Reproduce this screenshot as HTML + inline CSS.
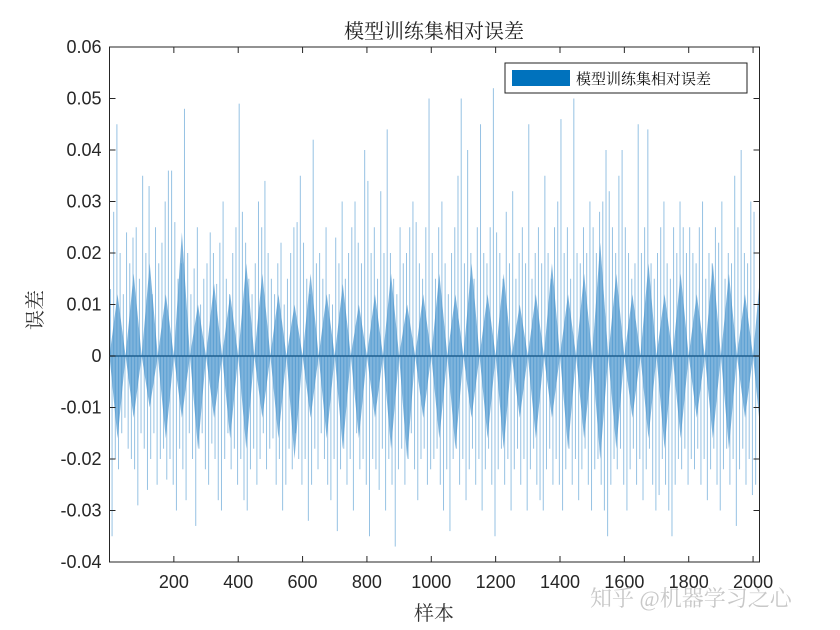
<!DOCTYPE html>
<html><head><meta charset="utf-8">
<style>
html,body{margin:0;padding:0;background:#fff;}
svg{display:block;}
text{font-family:"Liberation Sans","Noto Sans CJK SC",sans-serif;}
.cjk{font-family:"Liberation Serif","Noto Serif CJK SC",serif;}
</style></head>
<body>
<svg id="chart" width="840" height="630">
  <rect x="0" y="0" width="840" height="630" fill="#fff"/>
  <clipPath id="plotclip"><rect x="109.5" y="47" width="650" height="515"/></clipPath>
  <g id="bulk" clip-path="url(#plotclip)"></g>
  <g id="bars" clip-path="url(#plotclip)"></g>
  <g id="axes"></g>
  <text class="cjk" x="434" y="38" font-size="20" text-anchor="middle" fill="#222">模型训练集相对误差</text>
  <text class="cjk" x="434" y="620" font-size="20" text-anchor="middle" fill="#333">样本</text>
  <text class="cjk" x="0" y="0" font-size="20" text-anchor="middle" fill="#333" transform="translate(42,310) rotate(-90)">误差</text>
  <g>
    <rect x="505" y="63" width="242" height="30" fill="#fff" stroke="#222" stroke-width="1"/>
    <rect x="512" y="70" width="58" height="16" fill="#0072bd"/>
    <text class="cjk" x="576" y="84" font-size="15" fill="#111">模型训练集相对误差</text>
  </g>
  <text x="590" y="606" font-size="22" fill="#c8c8c8" class="cjk">知乎 @机器学习之心</text>
</svg>
<script>
const posValues = [
0.013,0.028,0.045,0.02,0.012,0.024,0.018,0.023,0.025,0.015,0.035,0.02,0.033,0.012,0.025,0.018,0.022,0.03,0.036,0.036,
0.026,0.015,0.018,0.048,0.02,0.012,0.017,0.025,0.01,0.015,0.018,0.024,0.02,0.014,0.022,0.03,0.015,0.012,0.02,0.025,
0.049,0.028,0.022,0.015,0.012,0.018,0.03,0.025,0.034,0.02,0.015,0.012,0.018,0.022,0.01,0.015,0.02,0.025,0.026,0.035,
0.022,0.015,0.012,0.042,0.018,0.02,0.015,0.025,0.012,0.01,0.023,0.018,0.03,0.015,0.02,0.025,0.03,0.022,0.018,0.04,
0.034,0.02,0.025,0.015,0.032,0.02,0.044,0.02,0.015,0.012,0.025,0.018,0.02,0.025,0.03,0.026,0.018,0.015,0.025,0.05,
0.02,0.015,0.025,0.03,0.018,0.012,0.02,0.025,0.035,0.05,0.018,0.04,0.02,0.015,0.025,0.045,0.02,0.018,0.025,0.052,
0.024,0.02,0.015,0.028,0.018,0.032,0.015,0.02,0.025,0.018,0.045,0.015,0.02,0.025,0.018,0.035,0.02,0.015,0.025,0.03,
0.046,0.02,0.025,0.015,0.05,0.02,0.018,0.025,0.02,0.03,0.025,0.02,0.028,0.03,0.04,0.032,0.025,0.02,0.035,0.04,
0.025,0.02,0.015,0.018,0.045,0.02,0.025,0.044,0.018,0.015,0.02,0.025,0.03,0.018,0.015,0.025,0.02,0.03,0.025,0.02,
0.025,0.02,0.018,0.025,0.03,0.015,0.02,0.018,0.025,0.022,0.03,0.015,0.02,0.018,0.035,0.025,0.04,0.02,0.018,0.03,
0.028];
const negValues = [
-0.035,-0.02,-0.022,-0.015,-0.012,-0.018,-0.02,-0.022,-0.029,-0.015,-0.018,-0.026,-0.02,-0.015,-0.025,-0.02,-0.018,-0.024,-0.02,-0.025,
-0.03,-0.018,-0.022,-0.028,-0.015,-0.02,-0.033,-0.018,-0.015,-0.022,-0.025,-0.017,-0.02,-0.028,-0.03,-0.02,-0.015,-0.022,-0.018,-0.025,
-0.02,-0.028,-0.03,-0.022,-0.018,-0.025,-0.02,-0.015,-0.022,-0.018,-0.016,-0.025,-0.02,-0.03,-0.025,-0.018,-0.022,-0.015,-0.02,-0.025,
-0.02,-0.032,-0.025,-0.018,-0.022,-0.015,-0.02,-0.025,-0.028,-0.02,-0.034,-0.022,-0.018,-0.025,-0.02,-0.03,-0.015,-0.022,-0.02,-0.025,
-0.035,-0.02,-0.022,-0.026,-0.018,-0.03,-0.02,-0.025,-0.037,-0.022,-0.018,-0.025,-0.02,-0.015,-0.022,-0.028,-0.02,-0.018,-0.025,-0.022,
-0.02,-0.018,-0.025,-0.03,-0.022,-0.034,-0.02,-0.018,-0.025,-0.02,-0.028,-0.022,-0.018,-0.025,-0.02,-0.03,-0.022,-0.018,-0.025,-0.035,
-0.022,-0.018,-0.025,-0.02,-0.03,-0.022,-0.018,-0.025,-0.02,-0.03,-0.022,-0.018,-0.025,-0.028,-0.03,-0.022,-0.018,-0.025,-0.02,-0.025,
-0.03,-0.022,-0.018,-0.025,-0.02,-0.028,-0.022,-0.018,-0.025,-0.03,-0.022,-0.02,-0.025,-0.03,-0.035,-0.025,-0.02,-0.022,-0.018,-0.025,
-0.03,-0.022,-0.018,-0.025,-0.02,-0.028,-0.022,-0.018,-0.025,-0.03,-0.027,-0.02,-0.025,-0.03,-0.035,-0.025,-0.02,-0.022,-0.018,-0.025,
-0.02,-0.022,-0.018,-0.025,-0.02,-0.028,-0.022,-0.018,-0.025,-0.03,-0.022,-0.018,-0.025,-0.02,-0.033,-0.022,-0.018,-0.025,-0.02,-0.027,
-0.025];
const bulkPos = [0.012,0.016,0.018,0.012,0.024,0.010,0.014,0.012,0.018,0.016,0.012,0.010,0.016,0.012,0.014,0.010,0.012,0.016,0.010,0.012,
0.016,0.012,0.018,0.012,0.016,0.010,0.012,0.018,0.012,0.016,0.022,0.016,0.012,0.018,0.012,0.016,0.012,0.018,0.016,0.012,0.018];
const bulkNeg = [-0.016,-0.012,-0.010,-0.016,-0.012,-0.018,-0.012,-0.016,-0.018,-0.012,-0.016,-0.020,-0.012,-0.016,-0.018,-0.016,-0.012,-0.018,-0.020,-0.012,
-0.016,-0.018,-0.012,-0.016,-0.018,-0.012,-0.016,-0.012,-0.018,-0.016,-0.020,-0.018,-0.012,-0.016,-0.018,-0.016,-0.012,-0.016,-0.018,-0.012,-0.016];
const sampleStep = 10;
const bulkStep = 50;
const xTicks = [200,400,600,800,1000,1200,1400,1600,1800,2000];
const yTicks = [-0.04,-0.03,-0.02,-0.01,0,0.01,0.02,0.03,0.04,0.05,0.06];
const yTickLabels = ["-0.04","-0.03","-0.02","-0.01","0","0.01","0.02","0.03","0.04","0.05","0.06"];

const NS = "http://www.w3.org/2000/svg";
const L = 109.5, R = 759.5, T = 47, B = 562;
const xMin = 0, xMax = 2020, yMin = -0.04, yMax = 0.06;
function xs(v){ return L + (v - xMin) / (xMax - xMin) * (R - L); }
function ys(v){ return B - (v - yMin) / (yMax - yMin) * (B - T); }

const bulk = document.getElementById('bulk');
function cluster(sample, v, name){
  const x0 = xs(sample), xm = xs(sample + bulkStep / 2), x1 = xs(sample + bulkStep);
  const p = document.createElementNS(NS, 'polygon');
  p.setAttribute('points', x0.toFixed(2) + ',' + ys(0).toFixed(2) + ' ' + xm.toFixed(2) + ',' + ys(v).toFixed(2) + ' ' + x1.toFixed(2) + ',' + ys(0).toFixed(2));
  p.setAttribute('fill', '#2a82c4');
  p.setAttribute('fill-opacity', '0.6');
  
  
  bulk.appendChild(p);
}
bulkPos.forEach((v, i) => cluster(i * bulkStep, v, 'density-positive'));
bulkNeg.forEach((v, i) => cluster(i * bulkStep, v, 'density-negative'));

const bars = document.getElementById('bars');
function bar(sample, v, name){
  const x = xs(sample);
  const r = document.createElementNS(NS, 'rect');
  r.setAttribute('x', (x - 0.5).toFixed(2));
  r.setAttribute('width', '1');
  r.setAttribute('y', Math.min(ys(v), ys(0)).toFixed(2));
  r.setAttribute('height', Math.abs(ys(v) - ys(0)).toFixed(2));
  r.setAttribute('fill', '#3f90cc');
  r.setAttribute('fill-opacity', '0.55');
  
  
  bars.appendChild(r);
}
posValues.forEach((v, i) => bar(i * sampleStep + 3, v, 'bar-positive'));
negValues.forEach((v, i) => bar(i * sampleStep + 8, v, 'bar-negative'));

const axes = document.getElementById('axes');
function el(tag, attrs){ const e = document.createElementNS(NS, tag); for (const k in attrs) e.setAttribute(k, attrs[k]); return e; }
const frame = el('rect', {x:L, y:T, width:R-L, height:B-T, fill:'none', stroke:'#262626', 'stroke-width':1});


axes.appendChild(frame);
const zl = el('line', {x1:L, x2:R, y1:ys(0), y2:ys(0), stroke:'#1f5f8f', 'stroke-width':1.5});


axes.appendChild(zl);
xTicks.forEach(t => {
  const x = xs(t);
  axes.appendChild(el('line', {x1:x, x2:x, y1:B, y2:B-6, stroke:'#262626'}));
  axes.appendChild(el('line', {x1:x, x2:x, y1:T, y2:T+6, stroke:'#262626'}));
  const tx = el('text', {x:x, y:B+26, 'font-size':18, 'text-anchor':'middle', fill:'#262626'});
  tx.textContent = t;
  
  
  axes.appendChild(tx);
});
yTicks.forEach((t, i) => {
  const y = ys(t);
  axes.appendChild(el('line', {x1:L, x2:L+6, y1:y, y2:y, stroke:'#262626'}));
  axes.appendChild(el('line', {x1:R, x2:R-6, y1:y, y2:y, stroke:'#262626'}));
  const tx = el('text', {x:L-8, y:y+6, 'font-size':18, 'text-anchor':'end', fill:'#262626'});
  tx.textContent = yTickLabels[i];
  
  
  axes.appendChild(tx);
});
</script>
</body></html>
